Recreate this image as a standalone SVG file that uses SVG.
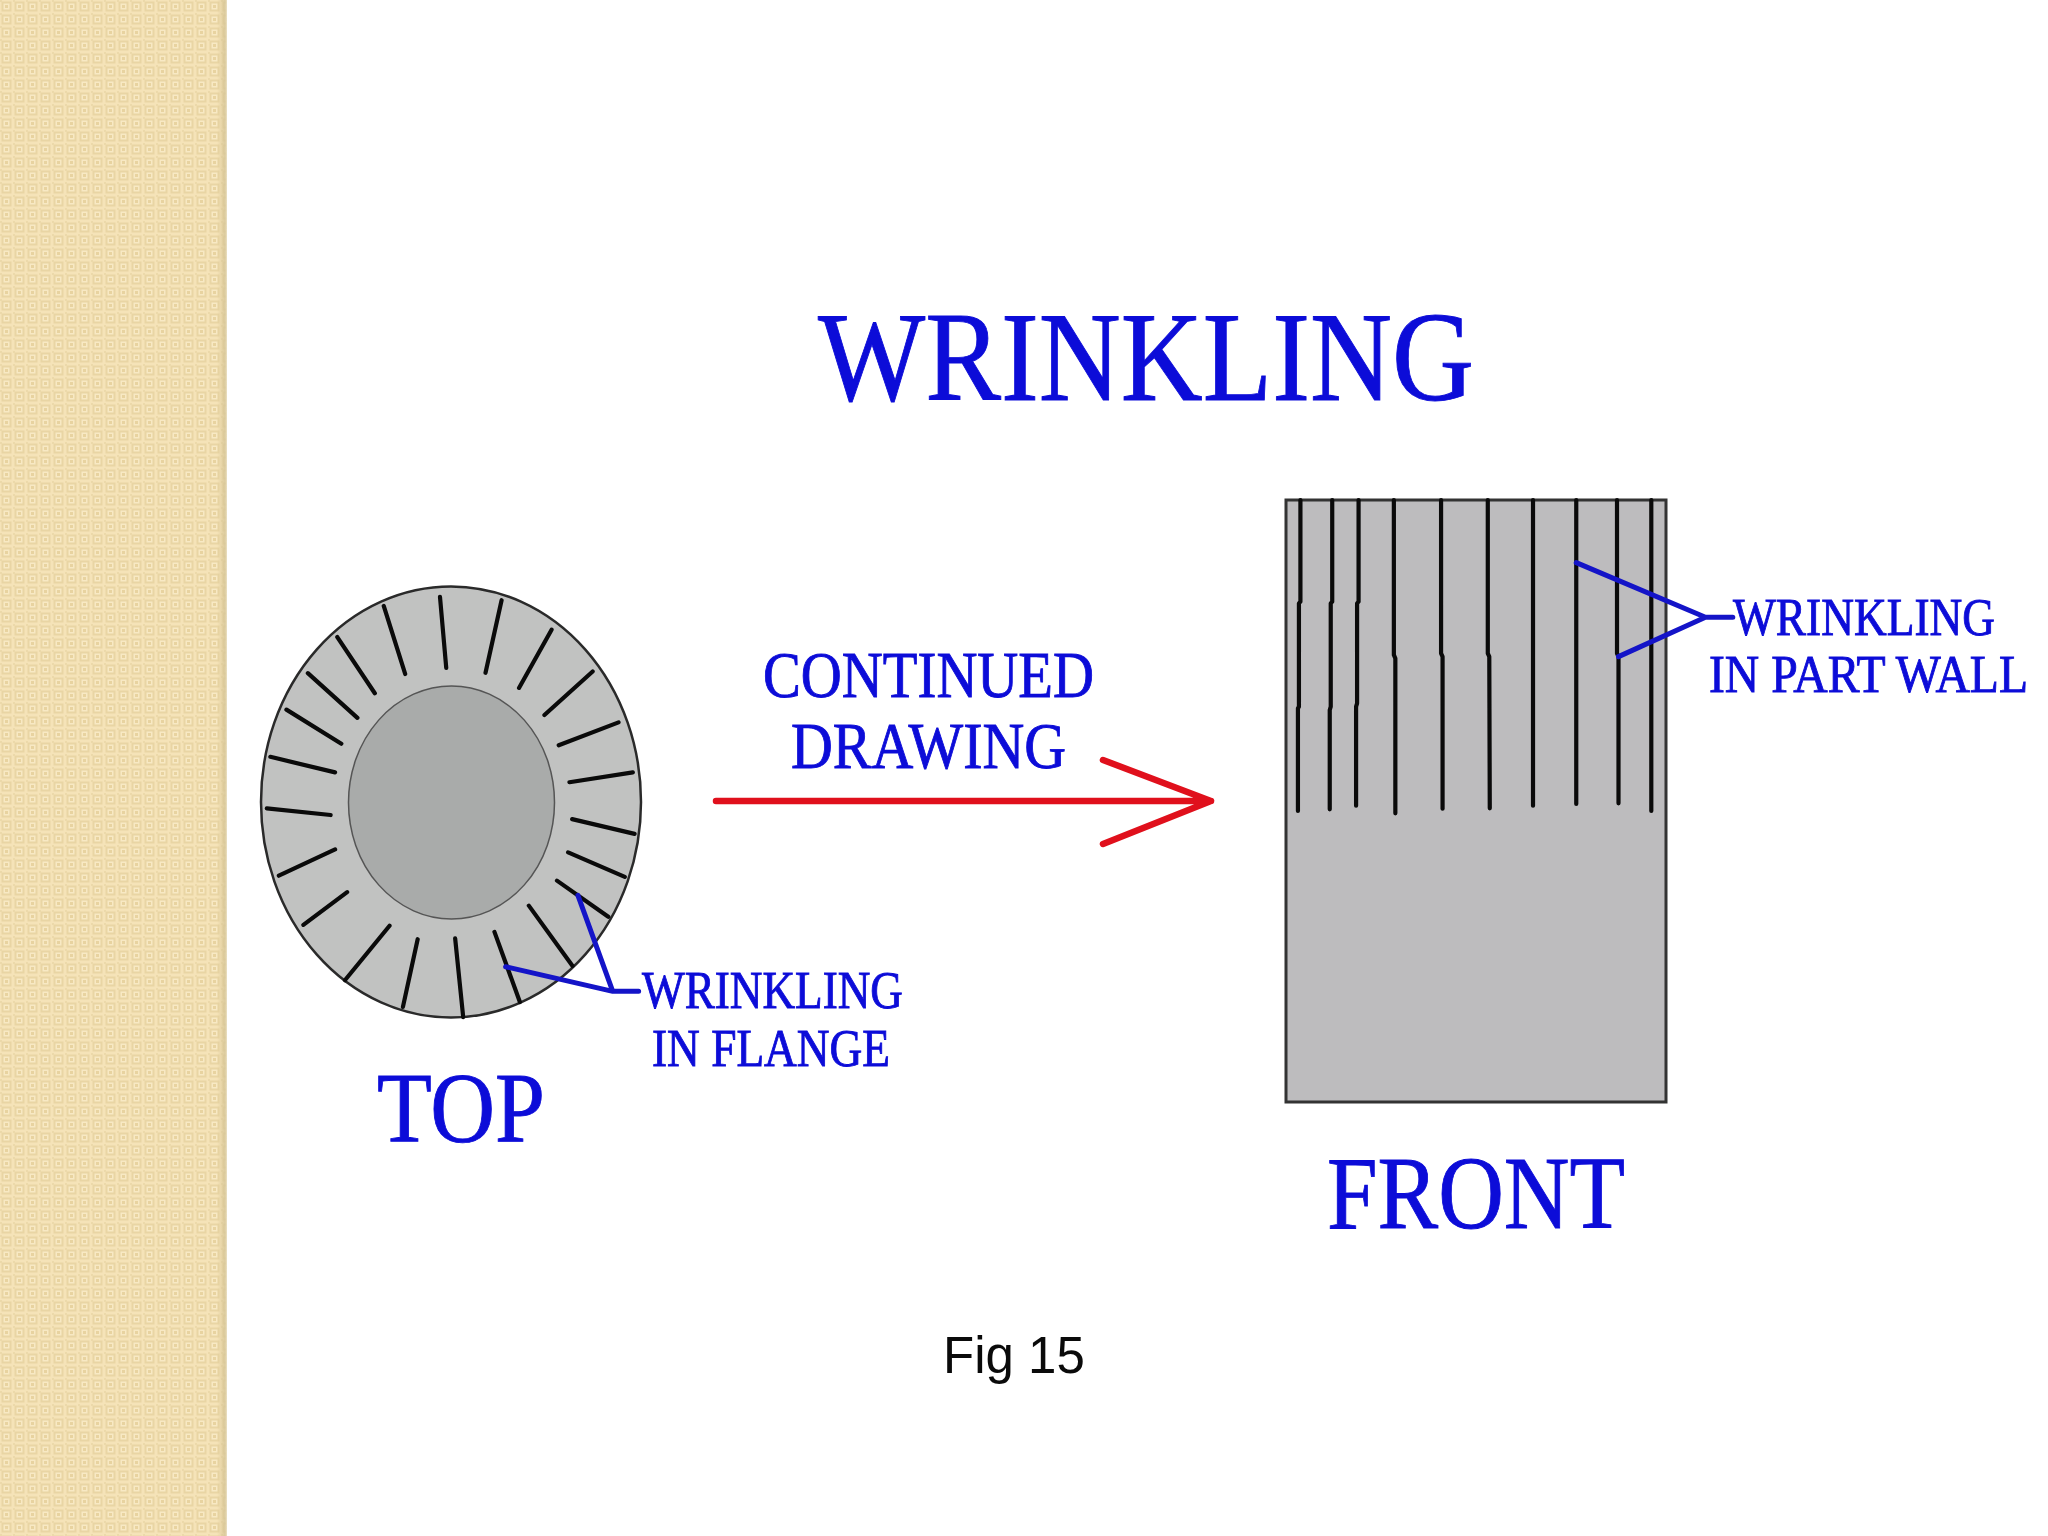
<svg xmlns="http://www.w3.org/2000/svg" width="2048" height="1536" viewBox="0 0 2048 1536">
<style>
.t{font-family:"Liberation Serif","Times New Roman",serif;fill:#0c0cd8;stroke:#0c0cd8;stroke-width:.9}
.k{fill:none;stroke:#0a0a0a;stroke-width:4.2;stroke-linecap:round;stroke-linejoin:round;vector-effect:non-scaling-stroke}
.b{fill:none;stroke:#1414c8;stroke-width:5;stroke-linecap:round;stroke-linejoin:round;vector-effect:non-scaling-stroke}
.r{fill:none;stroke:#e0101c;stroke-width:6.5;stroke-linecap:round;stroke-linejoin:round}
</style>
<defs>
<pattern id="tile" width="13" height="13" patternUnits="userSpaceOnUse">
<rect width="13" height="13" fill="#f5e3b8"/>
<rect x="2.5" y="2.5" width="8" height="8" fill="#f8e9c4" stroke="#e9d5a4" stroke-width="2"/>
<rect x="5" y="5" width="3" height="3" fill="#e8d3a0"/>
<rect x="0" y="0" width="2" height="2" fill="#ecd9aa"/>
</pattern>
<linearGradient id="edge" x1="0" x2="1" y1="0" y2="0">
<stop offset="0" stop-color="#d8c490" stop-opacity="0"/>
<stop offset="0.8" stop-color="#d6c596" stop-opacity="0.8"/>
<stop offset="1" stop-color="#ece2c6"/>
</linearGradient>
</defs>
<rect width="2048" height="1536" fill="#fff"/>
<g id="sidebar">
<rect width="227" height="1536" fill="url(#tile)"/>
<rect x="217" width="10" height="1536" fill="url(#edge)"/>
</g>
<g id="title"><text class="t" x="818" y="400" font-size="127" textLength="656" lengthAdjust="spacingAndGlyphs">WRINKLING</text></g>
<g id="top-view">
<ellipse cx="451" cy="802" rx="190" ry="215.5" fill="#c1c2c1" stroke="#2a2a2a" stroke-width="2.5"/>
<ellipse cx="451.5" cy="802.5" rx="103" ry="116.5" fill="#a9abaa" stroke="#555" stroke-width="1.5"/>
<path class="k" transform="translate(240 560) scale(.4464 .41)" d="M448 90L462 263M586 98L550 275M698 170L625 312M790 272L682 378M848 396L714 452M880 518L738 542M884 668L744 632M862 773L735 713M825 870L710 782M745 990L647 843M627 1078L570 907M500 1115L482 923M365 1090L398 925M235 1025L335 892M142 890L240 810M87 770L213 706M60 606L203 622M68 480L213 518M104 365L227 448M152 276L263 385M218 188L302 325M322 112L370 278"/>
<text class="t" x="377" y="1141" font-size="100" textLength="168" lengthAdjust="spacingAndGlyphs">TOP</text>
</g>
<g id="front-view">
<rect x="1286" y="500" width="380" height="602" fill="#bdbcbe" stroke="#333" stroke-width="3"/>
<path class="k" transform="translate(1270.6 480) scale(.497 .3333)" d="M60 60V365L57 370V680L55 685V993M124 60V365L121 370V680L119 690V988M177 60V365L174 370V670L172 680V977M248 60V525L251 535V1000M343 60V520L346 530V986M437 60V520L440 530L441 985M528 60V977M615 60V972M697 60V520L700 530V970M766 60V993"/>
<text class="t" x="1327" y="1228" font-size="103" textLength="298" lengthAdjust="spacingAndGlyphs">FRONT</text>
</g>
<g id="label-drawing">
<text class="t" x="763" y="697" font-size="65" textLength="331" lengthAdjust="spacingAndGlyphs">CONTINUED</text>
<text class="t" x="791" y="768" font-size="65" textLength="275" lengthAdjust="spacingAndGlyphs">DRAWING</text>
</g>
<g id="label-flange">
<text class="t" x="642" y="1008" font-size="52" textLength="261" lengthAdjust="spacingAndGlyphs">WRINKLING</text>
<text class="t" x="652" y="1066" font-size="52" textLength="238" lengthAdjust="spacingAndGlyphs">IN FLANGE</text>
</g>
<g id="label-wall">
<text class="t" x="1733" y="635" font-size="52" textLength="262" lengthAdjust="spacingAndGlyphs">WRINKLING</text>
<text class="t" x="1709" y="692" font-size="52" textLength="319" lengthAdjust="spacingAndGlyphs">IN PART WALL</text>
</g>
<g id="connectors">
<path class="r" d="M716 801H1211M1103 760L1211 801L1103 844"/>
<path class="b" transform="translate(240 560) scale(.4464 .41)" d="M595 992L835 1052L757 818M835 1052H893"/>
<path class="b" transform="translate(1270.6 480) scale(.497 .3333)" d="M615 248L875 412L700 530M875 412H930"/>
</g>
<g id="caption"><text x="943" y="1373" font-family="'Liberation Sans',Arial,sans-serif" font-size="51" fill="#0a0a0a">Fig 15</text></g>
</svg>
